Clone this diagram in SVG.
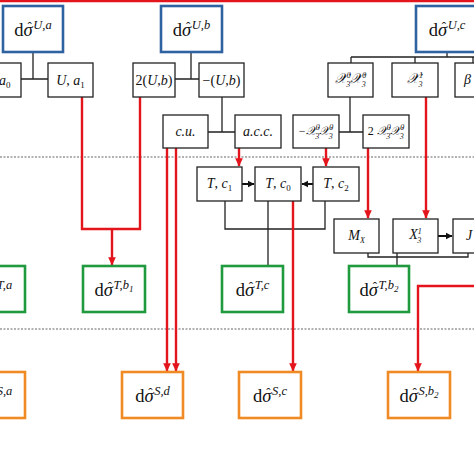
<svg xmlns="http://www.w3.org/2000/svg" width="474" height="474" viewBox="0 0 474 474">
<style>
text{font-family:"Liberation Serif","DejaVu Serif",serif;fill:#111;}
.big{font-size:18.5px;}
.lab{font-size:14px;}
.it{font-style:italic;}
.hat{font-size:13px;}
.sup{font-size:12.5px;font-style:italic;}
.ss{font-size:8px;font-style:italic;}
.sb{font-size:9px;font-style:italic;}
.sm{font-size:9px;}
.bx{fill:#fff;stroke:#222;stroke-width:1.3;}
.blue{fill:#fff;stroke:#2f62a0;stroke-width:2.6;}
.green{fill:#fff;stroke:#1f9a3e;stroke-width:2.6;}
.orange{fill:#fff;stroke:#f08a24;stroke-width:2.6;}
.k{fill:none;stroke:#222;stroke-width:1.3;}
.r{fill:none;stroke:#e3141b;stroke-width:2.4;}
.ra{fill:none;stroke:#e3141b;stroke-width:2.4;marker-end:url(#ra);}
.ka{fill:none;stroke:#111;stroke-width:2;marker-end:url(#ka);}
.dash{fill:none;stroke:#666;stroke-width:1.2;stroke-dasharray:2 1.5;}
</style>
<defs>
<marker id="ra" markerWidth="4" markerHeight="4" refX="3.2" refY="2" orient="auto" markerUnits="strokeWidth"><path d="M0,0.4 L3.4,2 L0,3.6 Z" fill="#e3141b"/></marker>
<marker id="ka" markerWidth="4" markerHeight="4" refX="3.2" refY="2" orient="auto" markerUnits="strokeWidth"><path d="M0,0.3 L3.4,2 L0,3.7 Z" fill="#111"/></marker>
</defs>
<rect width="474" height="474" fill="#fff"/>

<g id="separators">
<line class="dash" x1="0" y1="157" x2="474" y2="157"/>
<line class="dash" x1="0" y1="329" x2="474" y2="329"/>
</g>

<g id="connectors">
<path class="k" d="M33,52 V79 M21,79 H48"/>
<path class="k" d="M191,52 V79 M175,79 H199"/>
<path class="k" d="M447,52 V57 M351,57 H474 M351,57 V63 M415,57 V63 M473,57 V63"/>
<path class="k" d="M222,97 V132 M208,132 H235"/>
<path class="k" d="M350,97 V132 M339,132 H363"/>
<path class="k" d="M225,201 V229 H325 V201 M268,201 V266"/>
<path class="k" d="M368,253 V257 H468 V253 M397,253 V266"/>
<line class="ka" x1="242" y1="184" x2="254" y2="184"/>
<line class="ka" x1="313" y1="184" x2="302" y2="184"/>
<line class="ka" x1="438" y1="236" x2="452" y2="236"/>
<line class="r" x1="0" y1="1" x2="474" y2="1"/>
<path class="r" d="M82,97 V229 H140 V97"/>
<line class="ra" x1="112" y1="229" x2="112" y2="265"/>
<line class="ra" x1="167" y1="148" x2="167" y2="371"/>
<line class="ra" x1="176" y1="148" x2="176" y2="371"/>
<line class="ra" x1="239" y1="148" x2="239" y2="166"/>
<line class="ra" x1="326" y1="148" x2="326" y2="166"/>
<line class="ra" x1="368" y1="148" x2="368" y2="218"/>
<line class="ra" x1="426" y1="97" x2="426" y2="218"/>
<line class="ra" x1="293" y1="201" x2="293" y2="371"/>
<path class="ra" d="M474,286 H418 V371"/>
</g>

<g id="n-Ua"><rect class="blue" x="3" y="6" width="60" height="46"/>
<text class="big" x="33" y="36" text-anchor="middle">d<tspan class="it">σ</tspan><tspan class="hat" dx="-5.2" dy="-5">ˆ</tspan><tspan class="sup" dx="1.5" dy="-2.5">U,a</tspan></text></g>
<g id="n-Ub"><rect class="blue" x="161" y="6" width="61" height="46"/>
<text class="big" x="191.5" y="36" text-anchor="middle">d<tspan class="it">σ</tspan><tspan class="hat" dx="-5.2" dy="-5">ˆ</tspan><tspan class="sup" dx="1.5" dy="-2.5">U,b</tspan></text></g>
<g id="n-Uc"><rect class="blue" x="416" y="6" width="62" height="46"/>
<text class="big" x="447" y="36" text-anchor="middle">d<tspan class="it">σ</tspan><tspan class="hat" dx="-5.2" dy="-5">ˆ</tspan><tspan class="sup" dx="1.5" dy="-2.5">U,c</tspan></text></g>

<g id="n-Ua0"><rect class="bx" x="-30" y="63" width="51" height="34"/>
<text class="lab" x="-1" y="85"><tspan class="it">a</tspan><tspan class="sm" dy="3">0</tspan></text></g>
<g id="n-Ua1"><rect class="bx" x="48" y="63" width="45" height="34"/>
<text class="lab" x="70.5" y="85" text-anchor="middle"><tspan class="it">U</tspan>, <tspan class="it">a</tspan><tspan class="sm" dy="3">1</tspan></text></g>
<g id="n-2Ub"><rect class="bx" x="133" y="63" width="42" height="34"/>
<text class="lab" x="154" y="85" text-anchor="middle" font-size="13">2(<tspan class="it">U</tspan>,<tspan class="it">b</tspan>)</text></g>
<g id="n-mUb"><rect class="bx" x="199" y="63" width="45" height="34"/>
<text class="lab" x="221.5" y="85" text-anchor="middle" font-size="13">−(<tspan class="it">U</tspan>,<tspan class="it">b</tspan>)</text></g>
<g id="n-XX"><rect class="bx" x="328" y="63" width="45" height="34"/>
<text class="lab" x="350.5" y="83" text-anchor="middle"><tspan class="it">𝒳</tspan><tspan class="ss" dy="-5">0</tspan><tspan class="ss" dx="-4.5" dy="9">3</tspan><tspan class="it" dy="-4">𝒳</tspan><tspan class="ss" dy="-5">0</tspan><tspan class="ss" dx="-4.5" dy="9">3</tspan></text></g>
<g id="n-X1"><rect class="bx" x="392" y="63" width="46" height="34"/>
<text class="lab" x="415" y="83" text-anchor="middle"><tspan class="it">𝒳</tspan><tspan class="ss" dy="-5">1</tspan><tspan class="ss" dx="-4.5" dy="9">3</tspan></text></g>
<g id="n-beta"><rect class="bx" x="455" y="63" width="46" height="34"/>
<text class="lab" x="464" y="84"><tspan class="it">β</tspan></text></g>

<g id="n-cu"><rect class="bx" x="163" y="115" width="45" height="33"/>
<text class="lab" x="185.5" y="136" text-anchor="middle" font-style="italic">c.u.</text></g>
<g id="n-acc"><rect class="bx" x="235" y="115" width="46" height="33"/>
<text class="lab" x="258" y="136" text-anchor="middle" font-style="italic">a.c.c.</text></g>
<g id="n-mXX"><rect class="bx" x="293" y="115" width="46" height="33"/>
<text x="316" y="135" text-anchor="middle" font-size="12">−<tspan class="it">𝒳</tspan><tspan class="ss" dy="-5">0</tspan><tspan class="ss" dx="-4.5" dy="9">3</tspan><tspan class="it" dy="-4">𝒳</tspan><tspan class="ss" dy="-5">0</tspan><tspan class="ss" dx="-4.5" dy="9">3</tspan></text></g>
<g id="n-2XX"><rect class="bx" x="363" y="115" width="46" height="33"/>
<text x="386" y="135" text-anchor="middle" font-size="12">2 <tspan class="it">𝒳</tspan><tspan class="ss" dy="-5">0</tspan><tspan class="ss" dx="-4.5" dy="9">3</tspan><tspan class="it" dy="-4">𝒳</tspan><tspan class="ss" dy="-5">0</tspan><tspan class="ss" dx="-4.5" dy="9">3</tspan></text></g>

<g id="n-Tc1"><rect class="bx" x="197" y="167" width="45" height="34"/>
<text class="lab" x="219.5" y="188" text-anchor="middle"><tspan class="it">T</tspan>, <tspan class="it">c</tspan><tspan class="sm" dy="3">1</tspan></text></g>
<g id="n-Tc0"><rect class="bx" x="255" y="167" width="46" height="34"/>
<text class="lab" x="278" y="188" text-anchor="middle"><tspan class="it">T</tspan>, <tspan class="it">c</tspan><tspan class="sm" dy="3">0</tspan></text></g>
<g id="n-Tc2"><rect class="bx" x="313" y="167" width="46" height="34"/>
<text class="lab" x="336" y="188" text-anchor="middle"><tspan class="it">T</tspan>, <tspan class="it">c</tspan><tspan class="sm" dy="3">2</tspan></text></g>

<g id="n-MX"><rect class="bx" x="334" y="219" width="45" height="34"/>
<text class="lab" x="356.5" y="240" text-anchor="middle"><tspan class="it">M</tspan><tspan class="ss" dy="3">X</tspan></text></g>
<g id="n-X31"><rect class="bx" x="393" y="219" width="45" height="34"/>
<text class="lab" x="415.5" y="239" text-anchor="middle"><tspan class="it">X</tspan><tspan class="ss" dy="-5">1</tspan><tspan class="ss" dx="-4.5" dy="9">3</tspan></text></g>
<g id="n-J"><rect class="bx" x="453" y="219" width="46" height="34"/>
<text class="lab" x="466" y="240"><tspan class="it">J</tspan></text></g>

<g id="n-Ta"><rect class="green" x="-36" y="266" width="61" height="46"/>
<text class="big" x="-5" y="296" text-anchor="middle">d<tspan class="it">σ</tspan><tspan class="hat" dx="-5.2" dy="-5">ˆ</tspan><tspan class="sup" dx="1.5" dy="-2.5">T,a</tspan></text></g>
<g id="n-Tb1"><rect class="green" x="83" y="266" width="62" height="46"/>
<text class="big" x="114" y="296" text-anchor="middle">d<tspan class="it">σ</tspan><tspan class="hat" dx="-5.2" dy="-5">ˆ</tspan><tspan class="sup" dx="1.5" dy="-2.5">T,b</tspan><tspan class="sb" dy="3">1</tspan></text></g>
<g id="n-Tc"><rect class="green" x="222" y="266" width="61" height="46"/>
<text class="big" x="252.5" y="296" text-anchor="middle">d<tspan class="it">σ</tspan><tspan class="hat" dx="-5.2" dy="-5">ˆ</tspan><tspan class="sup" dx="1.5" dy="-2.5">T,c</tspan></text></g>
<g id="n-Tb2"><rect class="green" x="349" y="266" width="60" height="46"/>
<text class="big" x="379" y="296" text-anchor="middle">d<tspan class="it">σ</tspan><tspan class="hat" dx="-5.2" dy="-5">ˆ</tspan><tspan class="sup" dx="1.5" dy="-2.5">T,b</tspan><tspan class="sb" dy="3">2</tspan></text></g>

<g id="n-Sa"><rect class="orange" x="-36" y="372" width="61" height="46"/>
<text class="big" x="-5" y="402" text-anchor="middle">d<tspan class="it">σ</tspan><tspan class="hat" dx="-5.2" dy="-5">ˆ</tspan><tspan class="sup" dx="1.5" dy="-2.5">S,a</tspan></text></g>
<g id="n-Sd"><rect class="orange" x="122" y="372" width="61" height="46"/>
<text class="big" x="152.5" y="402" text-anchor="middle">d<tspan class="it">σ</tspan><tspan class="hat" dx="-5.2" dy="-5">ˆ</tspan><tspan class="sup" dx="1.5" dy="-2.5">S,d</tspan></text></g>
<g id="n-Sc"><rect class="orange" x="239" y="372" width="62" height="46"/>
<text class="big" x="270" y="402" text-anchor="middle">d<tspan class="it">σ</tspan><tspan class="hat" dx="-5.2" dy="-5">ˆ</tspan><tspan class="sup" dx="1.5" dy="-2.5">S,c</tspan></text></g>
<g id="n-Sb2"><rect class="orange" x="388" y="372" width="62" height="46"/>
<text class="big" x="419" y="402" text-anchor="middle">d<tspan class="it">σ</tspan><tspan class="hat" dx="-5.2" dy="-5">ˆ</tspan><tspan class="sup" dx="1.5" dy="-2.5">S,b</tspan><tspan class="sb" dy="3">2</tspan></text></g>
</svg>
